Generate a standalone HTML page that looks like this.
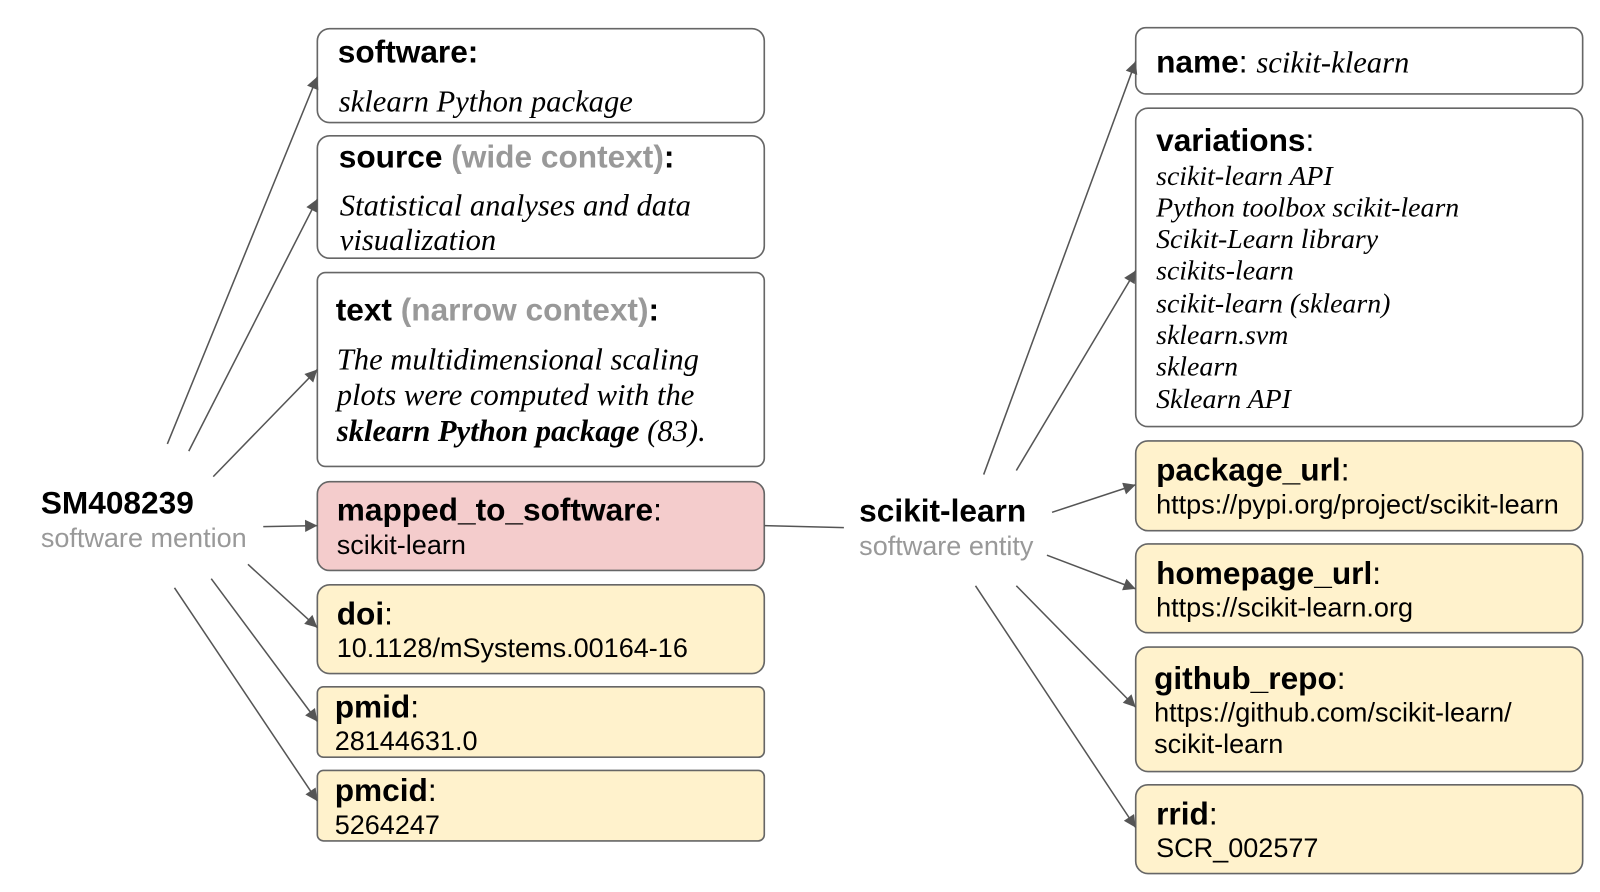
<!DOCTYPE html>
<html><head><meta charset="utf-8"><style>
html,body{margin:0;padding:0;background:#fff;overflow:hidden;}
svg{display:block;}
.l{font-family:"Liberation Sans",sans-serif;font-weight:bold;font-size:31px;fill:#000;}
.g{fill:#999;}
.c{font-family:"Liberation Sans",sans-serif;font-weight:normal;font-size:31px;fill:#000;}
.v{font-family:"Liberation Sans",sans-serif;font-size:26.5px;fill:#000;}
.s{font-family:"Liberation Serif",serif;font-style:italic;font-size:30px;fill:#000;}
.sv{font-family:"Liberation Serif",serif;font-style:italic;font-size:27.3px;fill:#000;}
.box{stroke:#666;stroke-width:1.6;}
.ln{stroke:#555;stroke-width:1.5;fill:none;}
</style></head><body>
<svg width="1600" height="892" viewBox="0 0 1568 874" xmlns="http://www.w3.org/2000/svg">
<defs>
<marker id="b" viewBox="0 0 10 10" refX="10" refY="5" markerWidth="16" markerHeight="12" markerUnits="userSpaceOnUse" orient="auto"><path d="M0,0 L10,5 L0,10 z" fill="#555"/></marker></defs>

<rect class="box" x="311" y="28" width="438" height="92" rx="12" fill="#fff"/>
<rect class="box" x="311" y="133" width="438" height="120" rx="12" fill="#fff"/>
<rect class="box" x="311" y="267" width="438" height="190" rx="8" fill="#fff"/>
<rect class="box" x="311" y="472" width="438" height="87" rx="12" fill="#f4cccc"/>
<rect class="box" x="311" y="573" width="438" height="87" rx="12" fill="#fff2cc"/>
<rect class="box" x="311" y="673" width="438" height="69" rx="6" fill="#fff2cc"/>
<rect class="box" x="311" y="755" width="438" height="69" rx="6" fill="#fff2cc"/>

<text class="l" x="331" y="61">software:</text>
<text class="s" x="332" y="109">sklearn Python package</text>
<text class="l" x="332" y="164">source <tspan class="g">(wide context)</tspan>:</text>
<text class="s" x="333" y="211">Statistical analyses and data</text>
<text class="s" x="333" y="245">visualization</text>
<text class="l" x="329" y="314">text <tspan class="g">(narrow context)</tspan>:</text>
<text class="s" x="330" y="362">The multidimensional scaling</text>
<text class="s" x="330" y="397">plots were computed with the</text>
<text class="s" x="330" y="432"><tspan font-weight="bold">sklearn Python package</tspan> (83).</text>
<text class="l" x="330" y="510">mapped_to_software<tspan class="c">:</tspan></text>
<text class="v" x="330" y="543">scikit-learn</text>
<text class="l" x="330" y="612">doi<tspan class="c">:</tspan></text>
<text class="v" x="330" y="644">10.1128/mSystems.00164-16</text>
<text class="l" x="328" y="703">pmid<tspan class="c">:</tspan></text>
<text class="v" x="328" y="735">28144631.0</text>
<text class="l" x="328" y="785">pmcid<tspan class="c">:</tspan></text>
<text class="v" x="328" y="817">5264247</text>

<text class="l" x="40" y="503">SM408239</text>
<text class="v" x="40" y="536" style="fill:#999">software mention</text>

<text class="l" x="842" y="511">scikit-learn</text>
<text class="v" x="842" y="544" style="fill:#999">software entity</text>

<rect class="box" x="1113" y="27" width="438" height="65" rx="10" fill="#fff"/>
<rect class="box" x="1113" y="106" width="438" height="312" rx="12" fill="#fff"/>
<rect class="box" x="1113" y="432" width="438" height="88" rx="12" fill="#fff2cc"/>
<rect class="box" x="1113" y="533" width="438" height="87" rx="12" fill="#fff2cc"/>
<rect class="box" x="1113" y="634" width="438" height="122" rx="12" fill="#fff2cc"/>
<rect class="box" x="1113" y="769" width="438" height="87" rx="12" fill="#fff2cc"/>

<text class="l" x="1133" y="71">name<tspan class="c">:</tspan> <tspan class="s" font-weight="normal">scikit-klearn</tspan></text>
<text class="l" x="1133" y="148">variations<tspan class="c">:</tspan></text>
<text class="sv" x="1133" y="181">scikit-learn API</text>
<text class="sv" x="1133" y="212">Python toolbox scikit-learn</text>
<text class="sv" x="1133" y="243">Scikit-Learn library</text>
<text class="sv" x="1133" y="274">scikits-learn</text>
<text class="sv" x="1133" y="306">scikit-learn (sklearn)</text>
<text class="sv" x="1133" y="337">sklearn.svm</text>
<text class="sv" x="1133" y="368">sklearn</text>
<text class="sv" x="1133" y="400">Sklearn API</text>
<text class="l" x="1133" y="471">package_url<tspan class="c">:</tspan></text>
<text class="v" x="1133" y="503">https://pypi.org/project/scikit-learn</text>
<text class="l" x="1133" y="572">homepage_url<tspan class="c">:</tspan></text>
<text class="v" x="1133" y="604">https://scikit-learn.org</text>
<text class="l" x="1131" y="675">github_repo<tspan class="c">:</tspan></text>
<text class="v" x="1131" y="707">https://github.com/scikit-learn/</text>
<text class="v" x="1131" y="738">scikit-learn</text>
<text class="l" x="1133" y="808">rrid<tspan class="c">:</tspan></text>
<text class="v" x="1133" y="840">SCR_002577</text>

<line class="ln" x1="164" y1="435" x2="311" y2="75" marker-end="url(#b)"/>
<line class="ln" x1="185" y1="442" x2="311" y2="195" marker-end="url(#b)"/>
<line class="ln" x1="209" y1="467" x2="311" y2="362" marker-end="url(#b)"/>
<line class="ln" x1="258" y1="516" x2="311" y2="515" marker-end="url(#b)"/>
<line class="ln" x1="243" y1="553" x2="311" y2="615" marker-end="url(#b)"/>
<line class="ln" x1="207" y1="567" x2="311" y2="707" marker-end="url(#b)"/>
<line class="ln" x1="171" y1="576" x2="311" y2="785" marker-end="url(#b)"/>
<line class="ln" x1="749" y1="515" x2="827" y2="517"/>
<line class="ln" x1="964" y1="465" x2="1113" y2="60" marker-end="url(#b)"/>
<line class="ln" x1="996" y1="461" x2="1113" y2="265" marker-end="url(#b)"/>
<line class="ln" x1="1031" y1="502" x2="1113" y2="475" marker-end="url(#b)"/>
<line class="ln" x1="1026" y1="544" x2="1113" y2="577" marker-end="url(#b)"/>
<line class="ln" x1="996" y1="574" x2="1113" y2="693" marker-end="url(#b)"/>
<line class="ln" x1="956" y1="574" x2="1113" y2="811" marker-end="url(#b)"/>
</svg>
</body></html>
